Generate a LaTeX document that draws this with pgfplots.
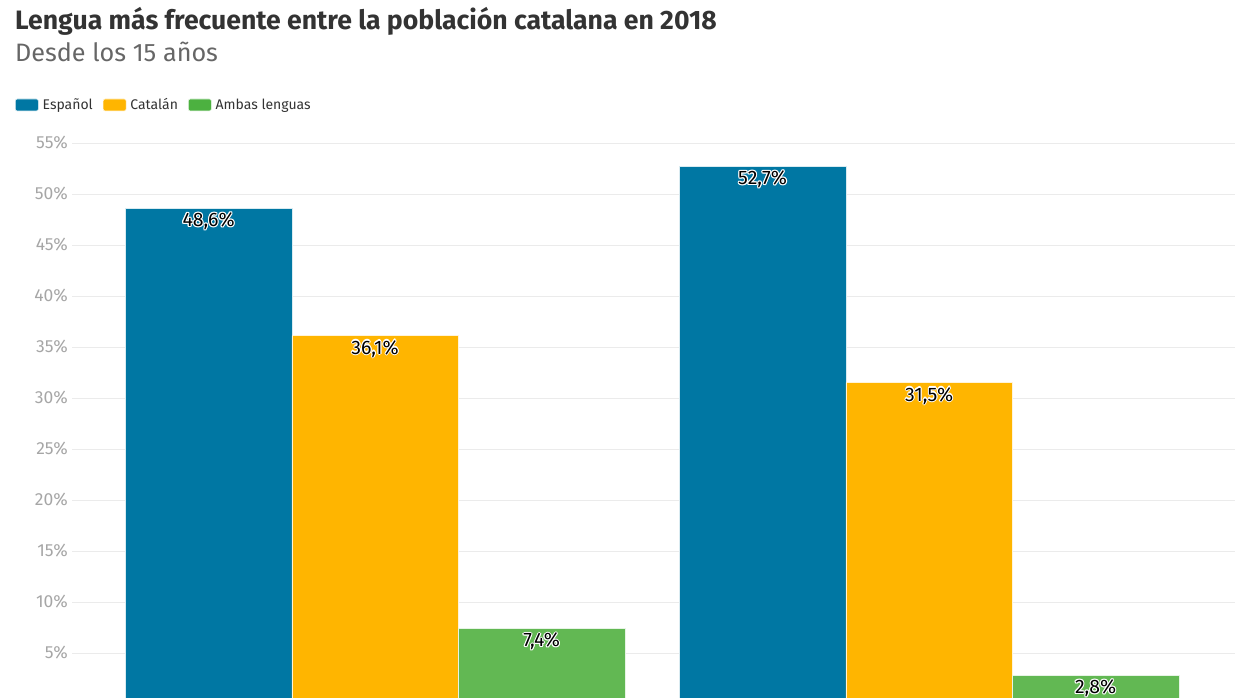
\documentclass[border=0pt]{standalone}
\usepackage{fontspec}
\setmainfont{Fira Sans}
\usepackage{pgfplots}
\pgfplotsset{compat=1.18}

\definecolor{esp}{HTML}{0077A3}
\definecolor{cat}{HTML}{FFB500}
\definecolor{amb}{HTML}{62B853}
\definecolor{ambleg}{HTML}{4CB140}
\definecolor{titlecol}{HTML}{333333}
\definecolor{subcol}{HTML}{666666}
\definecolor{tickcol}{HTML}{A6A6A6}
\definecolor{gridcol}{HTML}{EBEBEB}

% black label with a white halo
\newcommand\halo[1]{%
  \leavevmode
  \rlap{\color{white}\kern-1.1bp#1}%
  \rlap{\color{white}\kern1.1bp#1}%
  \rlap{\color{white}\raisebox{1.1bp}{#1}}%
  \rlap{\color{white}\raisebox{-1.1bp}{#1}}%
  \rlap{\color{white}\kern-.8bp\raisebox{.8bp}{#1}}%
  \rlap{\color{white}\kern.8bp\raisebox{.8bp}{#1}}%
  \rlap{\color{white}\kern-.8bp\raisebox{-.8bp}{#1}}%
  \rlap{\color{white}\kern.8bp\raisebox{-.8bp}{#1}}%
  {\color{black}#1}}

\begin{document}
\begin{tikzpicture}
\useasboundingbox (0,0) rectangle (1243bp,-698bp);

\node[anchor=base west, inner sep=0pt, text=titlecol]
  at (15bp,-29bp) {\fontsize{26.6bp}{30bp}\selectfont\bfseries Lengua más frecuente entre la población catalana en 2018};
\node[anchor=base west, inner sep=0pt, text=subcol]
  at (15bp,-61bp) {\fontsize{25.2bp}{30bp}\selectfont Desde los 15 años};

\begin{axis}[
  at={(72bp,-698bp)}, anchor=south west,
  scale only axis,
  width=1163bp, height=555bp,
  xmin=-0.547, xmax=1.552,
  ymin=0.588, ymax=55,
  ybar=0pt, bar width=0.3005,
  axis line style={draw=none},
  xtick=\empty,
  ytick={5,10,...,55},
  yticklabel={\pgfmathprintnumber{\tick}\%},
  yticklabel style={text=tickcol, font=\fontsize{17.5bp}{19bp}\selectfont, anchor=east, inner sep=0pt, xshift=-4bp},
  /pgf/number format/assume math mode=true,
  major tick length=0pt,
  ymajorgrids, major grid style={gridcol, line width=1bp},
  nodes near coords={\halo{\pgfmathprintnumber[fixed, fixed zerofill, precision=1, use comma]{\pgfplotspointmeta}\%}},
  every node near coord/.append style={anchor=center, yshift=-13bp, font=\fontsize{19.5bp}{22bp}\selectfont},
  legend style={at={(rel axis cs:-0.049,1.0685)}, anchor=west, draw=none, fill=none,
    legend columns=3, font=\fontsize{14bp}{16bp}\selectfont, text=titlecol,
    /tikz/every odd column/.append style={column sep=2bp},
    /tikz/every even column/.append style={column sep=8bp},
    inner sep=0pt, outer sep=0pt},
  legend image code/.code={\fill[#1, rounded corners=2bp] (0bp,-6bp) rectangle (23bp,6bp);},
  legend cell align=left,
]
\addplot[fill=esp, draw=white!85!esp, line width=0.6bp] coordinates {(0,48.6) (1,52.7)};
\addplot[fill=cat, draw=white!85!cat, line width=0.6bp] coordinates {(0,36.1) (1,31.5)};
\addplot[fill=amb, draw=white!85!amb, line width=0.6bp,
  legend image post style={fill=ambleg}] coordinates {(0,7.4) (1,2.8)};
\legend{Español, Catalán, Ambas lenguas}
\end{axis}
\end{tikzpicture}
\end{document}
